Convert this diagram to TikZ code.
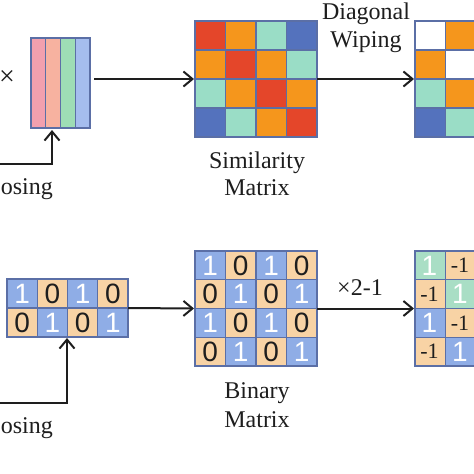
\documentclass[tikz,border=0pt]{standalone}
\usepackage{fontspec}
\setmainfont{Liberation Serif}
\newfontfamily\digitfont{Liberation Sans}
\usetikzlibrary{arrows.meta}
\definecolor{bord}{HTML}{5B6FA6}
\definecolor{sred}{HTML}{E4462A}
\definecolor{sorg}{HTML}{F5961C}
\definecolor{steal}{HTML}{9ADDC6}
\definecolor{sblue}{HTML}{5472BD}
\definecolor{bblue}{HTML}{8FADE6}
\definecolor{bpeach}{HTML}{F8D3A5}
\definecolor{bgreen}{HTML}{A9DEC5}
\definecolor{pa}{HTML}{F2A0AE}
\definecolor{pb}{HTML}{F7B2A0}
\definecolor{pc}{HTML}{9EDDB5}
\definecolor{pd}{HTML}{A5BDEE}
\definecolor{ink}{HTML}{1E1E1E}
\tikzset{
  arr/.style={line width=2pt, ink, -{Straight Barb[length=9pt,width=15pt,line width=2pt]}},
  lbl/.style={font=\fontsize{24}{28}\selectfont, text=ink, inner sep=0pt},
  cellbox/.style={draw=bord, line width=1.1pt},
  box/.style={draw=none, inner sep=0pt, outer sep=0pt},
  one/.style={font=\digitfont\fontsize{28}{28}\selectfont, text=white, inner sep=0pt},
  zero/.style={font=\digitfont\fontsize{28}{28}\selectfont, text=ink, inner sep=0pt},
  neg/.style={font=\fontsize{22}{22}\selectfont, text=ink, inner sep=0pt},
}
\begin{document}
\begin{tikzpicture}[x=1pt,y=-1pt]
\useasboundingbox (0,0) rectangle (474,474);
\clip (0,0) rectangle (474,474);
\fill[white] (0,0) rectangle (474,474);

% ---------- top row ----------
\node[lbl, font=\fontsize{28}{28}\selectfont, anchor=west] (times) at (-1,78) {×};

% feature strip
\node[box, minimum width=59pt, minimum height=90pt] (strip) at (60.5,83) {};
\foreach \c [count=\k from 0] in {pa,pb,pc,pd}
  \filldraw[cellbox, fill=\c] (31+\k*14.75,38) rectangle ++(14.75,90);

% similarity matrix
\node[box, minimum width=122pt, minimum height=116pt] (sim) at (256,79) {};
\foreach \r/\row in {0/{sred,sorg,steal,sblue},1/{sorg,sred,sorg,steal},2/{steal,sorg,sred,sorg},3/{sblue,steal,sorg,sred}}
  \foreach \c [count=\k from 0] in \row
    \filldraw[cellbox, fill=\c] (195+\k*30.5,21+\r*29) rectangle ++(30.5,29);

% wiped matrix (only the visible part)
\node[box, minimum width=122pt, minimum height=116pt] (wip) at (476,79) {};
\foreach \r/\row in {0/{white,sorg},1/{sorg,white},2/{steal,sorg},3/{sblue,steal}}
  \foreach \c [count=\k from 0] in \row
    \filldraw[cellbox, fill=\c] (415+\k*30.5,21+\r*29) rectangle ++(30.5,29);

\node[lbl, anchor=base east] (tposeA) at (53,194) {osing};
\coordinate (tA) at (0,164);
\coordinate (tAend) at (52,130);
\draw[arr] (tA) -| (tAend);

\draw[arr] ([xshift=4pt]strip.east |- sim.west) -- ([xshift=-1pt]sim.west);
\draw[arr] (sim.east) -- ([xshift=-1pt]wip.west);

\node[lbl, anchor=base] (simA) at (257,168) {Similarity};
\node[lbl, anchor=base] (simB) at (257,195) {Matrix};
\node[lbl, anchor=base] (diagA) at (366,19) {Diagonal};
\node[lbl, anchor=base] (diagB) at (366,47) {Wiping};

% ---------- bottom row ----------
\node[box, minimum width=121pt, minimum height=58pt] (small) at (67.5,308) {};
\foreach \r/\row in {0/{bblue/one/1,bpeach/zero/0,bblue/one/1,bpeach/zero/0},1/{bpeach/zero/0,bblue/one/1,bpeach/zero/0,bblue/one/1}}
  \foreach \c/\s/\t [count=\k from 0] in \row {
    \filldraw[cellbox, fill=\c] (7+\k*30.25,279+\r*29) rectangle ++(30.25,29);
    \node[\s] (sm-\r-\k) at (7+\k*30.25+15.1,279+\r*29+14.5) {\t};
  }

\node[box, minimum width=122pt, minimum height=116pt] (bin) at (256,308.5) {};
\foreach \r/\row in {0/{bblue/one/1,bpeach/zero/0,bblue/one/1,bpeach/zero/0},1/{bpeach/zero/0,bblue/one/1,bpeach/zero/0,bblue/one/1},2/{bblue/one/1,bpeach/zero/0,bblue/one/1,bpeach/zero/0},3/{bpeach/zero/0,bblue/one/1,bpeach/zero/0,bblue/one/1}}
  \foreach \c/\s/\t [count=\k from 0] in \row {
    \filldraw[cellbox, fill=\c] (195+\k*30.5,251+\r*28.75) rectangle ++(30.5,28.75);
    \node[\s] (bn-\r-\k) at (195+\k*30.5+15.25,251+\r*28.75+14.4) {\t};
  }

\node[box, minimum width=122pt, minimum height=116pt] (sgn) at (476,308.5) {};
\foreach \r/\row in {0/{bgreen/one/1,bpeach/neg/-1},1/{bpeach/neg/-1,bgreen/one/1},2/{bblue/one/1,bpeach/neg/-1},3/{bpeach/neg/-1,bblue/one/1}}
  \foreach \c/\s/\t [count=\k from 0] in \row {
    \filldraw[cellbox, fill=\c] (415+\k*30.5,251+\r*28.75) rectangle ++(30.5,28.75);
    \node[\s] (sg-\r-\k) at (415+\k*30.5+14.5,251+\r*28.75+14.4) {\t};
  }

\node[lbl, anchor=base east] (tposeB) at (53,433) {osing};
\coordinate (tB) at (0,403);
\coordinate (tBend) at (67,338);
\draw[arr] (tB) -| (tBend);

\draw[arr] (small.east) -- ([xshift=-1pt]bin.west);
\draw[arr] (bin.east) -- ([xshift=-1pt]sgn.west);

\node[lbl, anchor=base] (binA) at (257,398) {Binary};
\node[lbl, anchor=base] (binB) at (257,427) {Matrix};
\node[lbl, anchor=base] (op) at (360,295) {×2-1};
\end{tikzpicture}
\end{document}
